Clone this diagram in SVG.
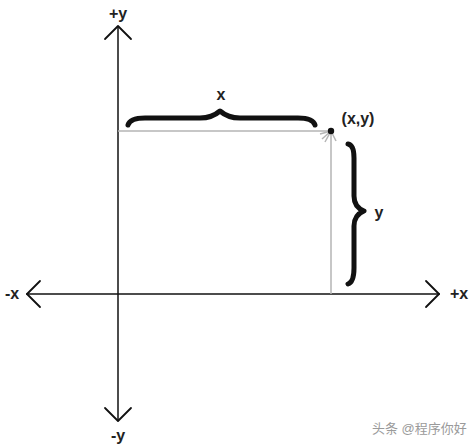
<svg xmlns="http://www.w3.org/2000/svg" width="474" height="444" viewBox="0 0 474 444">
<style>
.axis{stroke:#111;stroke-width:1.5;fill:none}
.head{stroke:#111;stroke-width:1.8;fill:none;stroke-linecap:round;stroke-linejoin:round}
.guide{stroke:#b5b5b5;stroke-width:1.5;fill:none}
.brace{stroke:#111;stroke-width:5;fill:none;stroke-linecap:round;stroke-linejoin:round}
.lbl{font-family:"Liberation Sans",Arial,sans-serif;font-size:16px;font-weight:bold;fill:#222;text-anchor:middle}
.wm{font-family:"Liberation Sans","Noto Sans CJK SC",sans-serif;font-size:13px;fill:#9a9a9a}
</style>
<rect width="474" height="444" fill="#fff"/>
<g id="connectors">
<line class="axis" x1="118" y1="26" x2="118" y2="421"/>
<polyline class="head" points="105,39 118,26 131,39"/>
<polyline class="head" points="105,408 118,421 131,408"/>
<line class="axis" x1="26" y1="294" x2="440" y2="294"/>
<polyline class="head" points="40,281 27,294 40,307"/>
<polyline class="head" points="426,281 439,294 426,307"/>
<line class="guide" x1="118" y1="131" x2="331" y2="131"/>
<line class="guide" x1="331" y1="131" x2="331" y2="294"/>
<g class="guide" stroke-width="1">
<line x1="331" y1="131" x2="322" y2="139"/>
<line x1="331" y1="131" x2="325" y2="142"/>
<line x1="331" y1="131" x2="320" y2="134"/>
<line x1="331" y1="131" x2="336" y2="141"/>
</g>
</g>
<g id="brace-x">
<path class="brace" d="M128,125 Q130,118 145,118 L200,118 Q212,118 220,111 Q228,118 240,118 L298,118 Q313,118 315,125"/>
<text class="lbl" x="221" y="100">x</text>
</g>
<g id="brace-y">
<path class="brace" d="M348,144 Q354,145 354,158 L354,196 Q354,207 364,211 Q354,215 354,226 L354,268 Q354,282 348,284"/>
<text class="lbl" x="379" y="218">y</text>
</g>
<g id="point">
<circle cx="331" cy="131" r="3.2" fill="#111"/>
<text class="lbl" x="358" y="124" font-weight="normal">(x,y)</text>
</g>
<g id="axis-labels">
<text class="lbl" x="118" y="19">+y</text>
<text class="lbl" x="118" y="441">-y</text>
<text class="lbl" x="12" y="299">-x</text>
<text class="lbl" x="459" y="299">+x</text>
</g>
<text class="wm" x="372" y="433">头条 @程序你好</text>
</svg>
